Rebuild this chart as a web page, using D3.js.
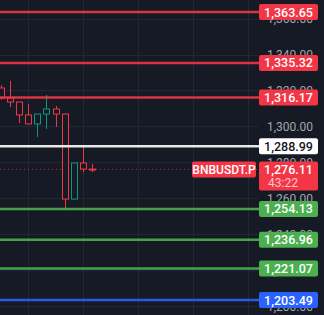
<!DOCTYPE html>
<html>
<head>
<meta charset="utf-8">
<script src="https://cdn.jsdelivr.net/npm/d3@7"></script>
<style>
  html, body { margin: 0; padding: 0; background: #161a25; overflow: hidden; }
  svg { display: block; font-family: Roboto, "Noto Sans", sans-serif; }
</style>
</head>
<body>
<script>
var width = 324, height = 315;

// candles: open, high, low, close
var opens  = [1321.4, 1315.8, 1313.6, 1306.4, 1301.4, 1306.9, 1309.7, 1306.9, 1259.6, 1279.7, 1276.3];
var highs  = [1323.0, 1325.3, 1313.6, 1312.5, 1306.9, 1317.5, 1311.4, 1307.2, 1279.7, 1289.1, 1279.1];
var lows   = [1315.0, 1310.8, 1301.9, 1301.4, 1294.1, 1298.6, 1299.7, 1254.1, 1259.6, 1274.6, 1274.6];
var closes = [1315.8, 1313.6, 1306.4, 1301.4, 1306.9, 1309.7, 1306.9, 1259.6, 1279.7, 1276.3, 1276.11];

// horizontal levels
var levelValues = [1363.65, 1335.32, 1316.17, 1288.99, 1254.13, 1236.96, 1221.07, 1203.49];
var levelColors = ["#f23645", "#f23645", "#f23645", "#ffffff", "#4caf50", "#4caf50", "#4caf50", "#2962ff"];

var priceTicks = [1200, 1220, 1240, 1260, 1280, 1300, 1320, 1340, 1360];
var gridBars = [3, 9, 15, 21, 27];

var lastPrice = 1276.11;
var symbol = "BNBUSDT.P";
var countdown = "43:22";

var plotRight = 258;

var y = d3.scaleLinear().domain([1203.49, 1363.65]).range([300, 12]);
var x = d3.scaleLinear().domain([0, 10]).range([0.5, 92.3]);

var svg = d3.select("body").append("svg")
  .attr("width", width)
  .attr("height", height);

svg.append("rect").attr("width", width).attr("height", height).attr("fill", "#161a25");

// grid
svg.append("g").selectAll("line").data(priceTicks).enter().append("line")
  .attr("x1", 0).attr("x2", plotRight)
  .attr("y1", function(d) { return Math.round(y(d)) + 0.5; })
  .attr("y2", function(d) { return Math.round(y(d)) + 0.5; })
  .attr("stroke", "#232735").attr("stroke-width", 1);

svg.append("g").selectAll("line").data(gridBars).enter().append("line")
  .attr("x1", function(d) { return Math.round(x(d)) + 0.5; })
  .attr("x2", function(d) { return Math.round(x(d)) + 0.5; })
  .attr("y1", 0).attr("y2", height)
  .attr("stroke", "#232735").attr("stroke-width", 1);

// axis tick labels
svg.append("g").selectAll("text").data(priceTicks).enter().append("text")
  .attr("x", 267)
  .attr("y", function(d) { return y(d) + 4.5; })
  .attr("fill", "#a3a6af")
  .attr("font-size", "12px")
  .text(function(d) { return d3.format(",.2f")(d); });

// last price dotted line
svg.append("line")
  .attr("x1", 0).attr("x2", plotRight)
  .attr("y1", y(lastPrice)).attr("y2", y(lastPrice))
  .attr("stroke", "#b8323f").attr("stroke-width", 1)
  .attr("stroke-dasharray", "1,3");

// candles
var candles = svg.append("g").selectAll("g").data(opens).enter().append("g");

candles.append("line")
  .attr("x1", function(d, i) { return Math.round(x(i)) + 0.5; })
  .attr("x2", function(d, i) { return Math.round(x(i)) + 0.5; })
  .attr("y1", function(d, i) { return y(highs[i]); })
  .attr("y2", function(d, i) { return y(lows[i]); })
  .attr("stroke", function(d, i) { return closes[i] < opens[i] ? "#f23645" : "#089981"; })
  .attr("stroke-width", 1);

candles.append("rect")
  .attr("x", function(d, i) { return Math.round(x(i)) - 2.5; })
  .attr("width", 6)
  .attr("y", function(d, i) { return y(Math.max(opens[i], closes[i])); })
  .attr("height", function(d, i) { return Math.max(1, Math.abs(y(opens[i]) - y(closes[i]))); })
  .attr("fill", "#161a25")
  .attr("stroke", function(d, i) { return closes[i] < opens[i] ? "#f23645" : "#089981"; })
  .attr("stroke-width", 1);

// level lines
svg.append("g").selectAll("line").data(levelValues).enter().append("line")
  .attr("x1", 0).attr("x2", 260)
  .attr("y1", function(d) { return y(d); })
  .attr("y2", function(d) { return y(d); })
  .attr("stroke", function(d, i) { return levelColors[i]; })
  .attr("stroke-opacity", 0.9)
  .attr("stroke-width", 2.5);

// symbol label
svg.append("rect")
  .attr("x", 192).attr("y", y(lastPrice) - 8)
  .attr("width", 64).attr("height", 16).attr("rx", 2)
  .attr("fill", "#f23645");
svg.append("text")
  .attr("x", 224).attr("y", y(lastPrice) + 4.5)
  .attr("text-anchor", "middle")
  .attr("fill", "#ffffff").attr("font-size", "12px").attr("font-weight", 500)
  .text(symbol);

// level labels
var labels = svg.append("g").selectAll("g").data(levelValues).enter().append("g");
labels.append("rect")
  .attr("x", 259).attr("y", function(d) { return y(d) - 8; })
  .attr("width", 59).attr("height", 16).attr("rx", 2)
  .attr("fill", function(d, i) { return levelColors[i]; });
labels.append("text")
  .attr("x", 288.5).attr("y", function(d) { return y(d) + 4.5; })
  .attr("text-anchor", "middle")
  .attr("fill", function(d, i) { return levelColors[i] == "#ffffff" ? "#131722" : "#ffffff"; })
  .attr("font-size", "12.5px").attr("font-weight", 500)
  .text(function(d) { return d3.format(",.2f")(d); });

// last price label with countdown
svg.append("rect")
  .attr("x", 259).attr("y", y(lastPrice) - 8)
  .attr("width", 59).attr("height", 29).attr("rx", 2)
  .attr("fill", "#f23645");
svg.append("text")
  .attr("x", 288.5).attr("y", y(lastPrice) + 4.5)
  .attr("text-anchor", "middle")
  .attr("fill", "#ffffff").attr("font-size", "12.5px").attr("font-weight", 500)
  .text(d3.format(",.2f")(lastPrice));
svg.append("text")
  .attr("x", 268).attr("y", y(lastPrice) + 17.5)
  .attr("fill", "#ffc7cc").attr("font-size", "12px")
  .text(countdown);
</script>
</body>
</html>
